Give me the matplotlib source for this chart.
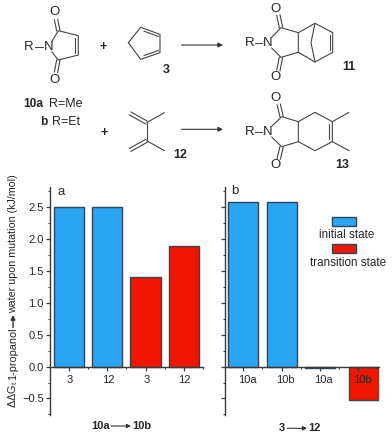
import matplotlib
matplotlib.use("Agg")
import matplotlib.pyplot as plt
from matplotlib.patches import Rectangle, FancyArrowPatch
from matplotlib.transforms import ScaledTranslation
from matplotlib.ticker import MultipleLocator

plt.rcParams['font.family'] = ['Liberation Sans', 'DejaVu Sans']
plt.rcParams['mathtext.fontset'] = 'custom'
plt.rcParams['mathtext.rm'] = 'Liberation Sans'
plt.rcParams['mathtext.default'] = 'regular'

# ---- data ----
labels_a = ['3', '12', '3', '12']
values_a = [2.5, 2.5, 1.4, 1.9]
pos_a = [1, 2, 3, 4]
labels_b = ['10a', '10b', '10a', '10b']
values_b = [2.58, 2.58, -0.02, -0.52]
pos_b = [1, 2, 3, 4.15]
tick_pos = [1, 2, 3, 4]
state_names = ['initial state', 'transition state']

BLUE = '#2BA6F4'
RED = '#F01600'
EDGE = '#2F4656'
AX = '#3a3a3a'
TXT = '#262626'
W, H = 392, 436
fig = plt.figure(figsize=(W/100, H/100), dpi=100, facecolor='white')


def axes_px(x0, x1, y0, y1):
    return fig.add_axes([x0/W, 1-y1/H, (x1-x0)/W, (y1-y0)/H])


def panel(ax, pos, vals, labs, xlim, dx):
    cols = [BLUE, BLUE, RED, RED]
    ax.bar(pos, vals, width=0.79, color=cols, edgecolor=EDGE, linewidth=1.0, zorder=2)
    ax.set_axisbelow(False)
    ax.set_xlim(*xlim)
    ax.set_ylim(-0.76, 2.82)
    for s in ['top', 'right']:
        ax.spines[s].set_visible(False)
    ax.spines['bottom'].set_position(('data', 0))
    ax.spines['bottom'].set_zorder(3)
    for s in ['left', 'bottom']:
        ax.spines[s].set_color(AX)
        ax.spines[s].set_linewidth(1.0)
    ax.yaxis.set_major_locator(MultipleLocator(0.5))
    ax.yaxis.set_minor_locator(MultipleLocator(0.25))
    ax.set_xticks(tick_pos)
    ax.set_xticklabels(labs)
    ax.xaxis.set_minor_locator(MultipleLocator(0.5))
    ax.tick_params(axis='both', which='major', length=3, width=0.9, color=AX, labelsize=8,
                   labelcolor=TXT, pad=1.2)
    ax.tick_params(axis='both', which='minor', length=1.6, width=0.8, color=AX)
    ax.tick_params(axis='x', which='major', pad=3.2)
    off = ScaledTranslation(dx/72, 0, fig.dpi_scale_trans)
    for t in ax.get_xticklabels():
        t.set_transform(t.get_transform() + off)
    ax.patch.set_alpha(0)


ax1 = axes_px(49.7, 203, 187, 415)
panel(ax1, pos_a, values_a, labels_a, (0.496, 4.5), 0.5)
ax2 = axes_px(224.7, 379, 187, 415)
panel(ax2, pos_b, values_b, labels_b, (0.514, 4.54), 2.6)
ax2.tick_params(axis='y', which='both', labelleft=False)

# overlay in pixel coordinates for the reaction scheme and annotations
ov = fig.add_axes([0, 0, 1, 1], zorder=10)
ov.set_xlim(0, W)
ov.set_ylim(H, 0)
ov.axis('off')
LW = 0.8
BC = '#444444'


def line(*pts, lw=LW, c=BC):
    ov.plot([p[0] for p in pts], [p[1] for p in pts], color=c, lw=lw, solid_capstyle='round')


def z(ox, oy, *pts):
    return [(ox+p[0]/3, oy+p[1]/3) for p in pts]


def txt(x, y, s, size=8.6, bold=False, ha='center', color=TXT):
    ov.text(x, y, s, fontsize=size, fontweight='bold' if bold else 'normal', ha=ha, va='center', color=color)


def dbl(ox, oy, a, b, d=6):
    (p, q) = z(ox, oy, a, b)
    dx, dy = q[0]-p[0], q[1]-p[1]
    L = (dx*dx+dy*dy)**.5
    nx, ny = -dy/L*d/3, dx/L*d/3
    line((p[0]+nx, p[1]+ny), (q[0]+nx, q[1]+ny))
    line((p[0]-nx, p[1]-ny), (q[0]-nx, q[1]-ny))


def inner(ox, oy, a, b, nx, ny, sh=0.12):
    p, q = z(ox, oy, a, b)
    dx, dy = q[0]-p[0], q[1]-p[1]
    line((p[0]+dx*sh+nx, p[1]+dy*sh+ny), (q[0]-dx*sh+nx, q[1]-dy*sh+ny))


def arrow(x0, x1, y, lw=0.8, ms=7):
    ov.add_patch(FancyArrowPatch((x0, y), (x1, y), arrowstyle='-|>', mutation_scale=ms, lw=lw,
                                 color='#333333', shrinkA=0, shrinkB=0))


# maleimide 10
line(*z(0, 0, (104, 140), (130, 140)))
line(*z(0, 0, (155, 125), (175, 92), (235, 107), (235, 165), (175, 180), (155, 155)))
inner(0, 0, (235, 107), (235, 165), -3, 0)
dbl(0, 0, (175, 92), (168, 58), 5)
dbl(0, 0, (175, 180), (168, 217), 5)
txt(29, 46.7, 'R', 9.5); txt(49, 46.7, 'N', 9.5); txt(55, 11.7, 'O', 9.5); txt(55, 80, 'O', 9.5)
txt(103.3, 47.3, '+', 9, True)

# cyclopentadiene 3
line(*z(0, 0, (385, 128), (422, 82), (480, 103), (480, 158), (422, 178), (385, 128)))
inner(0, 0, (422, 82), (480, 103), 1.0, 3)
inner(0, 0, (480, 158), (422, 178), 1.0, -3)
txt(166, 70, '3', 9, True)

# arrows
arrow(181.5, 223, 45)
arrow(181.5, 223, 129.3)

# substituents
ov.text(23.5, 104.3, '10a', fontsize=8.6, fontweight='bold', va='center', color=TXT)
ov.text(49.5, 104.3, 'R=Me', fontsize=9, va='center', color=TXT)
ov.text(40.5, 122.3, 'b', fontsize=8.6, fontweight='bold', va='center', color=TXT)
ov.text(52.5, 122.3, 'R=Et', fontsize=9, va='center', color=TXT)
txt(104, 132.7, '+', 9, True)

# diene 12
dbl(0, 0, (390, 340), (440, 368), 5)
line(*z(0, 0, (440, 368), (493, 338)))
line(*z(0, 0, (440, 368), (440, 422)))
dbl(0, 0, (440, 422), (390, 450), 5)
line(*z(0, 0, (440, 422), (493, 452)))
txt(180, 154.5, '12', 9, True)

# product 11
ox, oy = 235, 0
line(*z(ox, oy, (60, 128), (82, 128)))
line(*z(ox, oy, (110, 112), (138, 83), (190, 98), (190, 157), (138, 172), (110, 144)))
line(*z(ox, oy, (190, 98), (240, 70), (293, 98), (293, 157), (240, 186), (190, 157)))
line(*z(ox, oy, (240, 70), (228, 128), (240, 186)))
inner(ox, oy, (293, 98), (293, 157), -2.6, 0)
dbl(ox, oy, (138, 83), (130, 45), 5)
dbl(ox, oy, (138, 172), (130, 212), 5)
txt(ox+15, 42.7, 'R', 9.5); txt(ox+32.3, 42.7, 'N', 9.5)
txt(ox+40.7, 8.5, 'O', 9.5); txt(ox+40.7, 77.3, 'O', 9.5)
txt(ox+113.5, 67, '11', 9, True)

# product 13
ox, oy = 235, 85
line(*z(ox, oy, (60, 140), (82, 140)))
line(*z(ox, oy, (110, 124), (140, 95), (190, 110), (190, 170), (140, 185), (110, 156)))
line(*z(ox, oy, (190, 110), (240, 82), (292, 110), (292, 170), (240, 197), (190, 170)))
line(*z(ox, oy, (292, 110), (342, 82)))
line(*z(ox, oy, (292, 170), (342, 197)))
inner(ox, oy, (292, 110), (292, 170), -3, 0)
dbl(ox, oy, (140, 95), (131, 58), 5)
dbl(ox, oy, (140, 185), (131, 222), 5)
txt(ox+15, oy+46.7, 'R', 9.5); txt(ox+32.3, oy+46.7, 'N', 9.5)
txt(ox+40.7, oy+12.7, 'O', 9.5); txt(ox+40.7, oy+80, 'O', 9.5)
txt(ox+107.5, oy+79.5, '13', 9, True)

# panel letters
txt(60.7, 191.7, 'a', 9.5)
txt(235, 191.2, 'b', 9.5)

# legend
ov.add_patch(Rectangle((332.3, 216.7), 23.7, 9, fc=BLUE, ec=EDGE, lw=1.0))
txt(347, 235, state_names[0], 8.4)
ov.add_patch(Rectangle((332.3, 244), 23.7, 9.3, fc=RED, ec=EDGE, lw=1.0))
txt(348, 262.7, state_names[1], 8.4)

# y label, in pieces around its arrow
ov.text(13, 408, 'ΔΔG$_{t}$', rotation=90, fontsize=7.8, ha='center', va='bottom', color=TXT)
ov.text(13, 380, '1-propanol', rotation=90, fontsize=7.8, ha='center', va='bottom', color=TXT)
ov.add_patch(FancyArrowPatch((13, 327.5), (13, 315), arrowstyle='-|>', mutation_scale=6.5, lw=1.0,
                             color='#333333', shrinkA=0, shrinkB=0))
ov.text(13, 313, 'water upon mutation (kJ/mol)', rotation=90, fontsize=7.7, ha='center', va='bottom', color=TXT)

# x captions
txt(100.7, 426, '10a', 8, True)
arrow(111, 131, 426, 0.8, 6)
txt(142.3, 426, '10b', 8, True)
txt(282, 428.3, '3', 8, True)
arrow(287.3, 307, 428.3, 0.8, 6)
txt(314.7, 428.3, '12', 8, True)

fig.savefig('out.png', dpi=100, facecolor='white')
